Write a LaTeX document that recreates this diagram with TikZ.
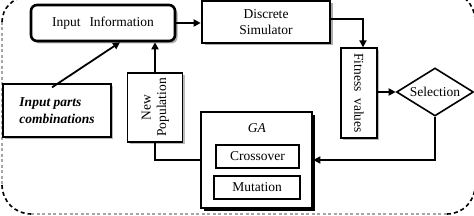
\documentclass[tikz,border=0pt]{standalone}
\usepackage{fontspec}
\setmainfont{Liberation Serif}
\usetikzlibrary{arrows.meta,shapes.geometric,shadows,calc}
\begin{document}
\begin{tikzpicture}[x=1pt,y=-1pt,
  font=\fontsize{13.5}{16.5}\selectfont,
  box/.style={draw, rectangle, inner sep=0pt, align=center, fill=white},
  thickbox/.style={box, line width=2.6pt, drop shadow={shadow xshift=2.5pt, shadow yshift=-2.5pt, fill=gray!65, opacity=1}},
  gabox/.style={box, line width=2.6pt, drop shadow={shadow xshift=3pt, shadow yshift=-3pt, fill=black, opacity=1}},
  thinbox/.style={box, line width=1.3pt, drop shadow={shadow xshift=2pt, shadow yshift=-2pt, fill=gray!55, opacity=1}},
  plainbox/.style={box, line width=1.1pt},
  decision/.style={draw, diamond, line width=1.6pt, inner sep=0pt, shape aspect=1.6, fill=white},
  arr/.style={line width=1.8pt, -{Triangle[length=7pt,width=7pt]}},
  conn/.style={line width=1.8pt},
  edge/.style={line width=2pt, gray!70, dash pattern=on 3pt off 2.5pt},
  corner/.style={line width=1.6pt, black, dash pattern=on 4pt off 3pt}]
\useasboundingbox (0,0) rectangle (474,216);
\begin{scope}
\clip (0,0) rectangle (474,216);
% outer dashed frame
\draw[edge] (2,22) -- (2,185);
\draw[edge] (31,214) -- (447,214);
\draw[corner] (2,22) arc[start angle=180, end angle=270, radius=25];
\draw[corner] (2,185) arc[start angle=180, end angle=90, radius=29];
\draw[corner] (447,214) arc[start angle=90, end angle=0, radius=28];
\draw[corner] (475,20) arc[start angle=0, end angle=-90, radius=28];
\end{scope}

% nodes
\node[thickbox, rounded corners=6pt, minimum width=144pt, minimum height=36pt] (info) at (103,23) {Input\hspace{9pt}Information};
\node[thickbox, minimum width=128pt, minimum height=42pt] (sim) at (266,22) {Discrete\\Simulator};
\node[thinbox, minimum width=36pt, minimum height=90pt] (fit) at (359,93) {\rotatebox{-90}{Fitness\ \ values}};
\node[decision, minimum width=77pt, minimum height=48pt] (sel) at (435,92) {Selection};
\node[gabox, minimum width=111pt, minimum height=96pt] (ga) at (256.5,160) {};
\node (galabel) at (257,128) {\textit{GA}};
\node[plainbox, minimum width=83pt, minimum height=23pt] (cross) at (257.5,156.5) {Crossover};
\node[plainbox, minimum width=86pt, minimum height=23pt] (mut) at (257,187.5) {Mutation};
\node[thinbox, minimum width=55pt, minimum height=69pt] (np) at (155,107.5) {\rotatebox{90}{\begin{tabular}{@{}c@{}}New\\[-1pt]Population\end{tabular}}};
\node[thinbox, minimum width=108pt, minimum height=53pt, align=left] (parts) at (57,110.5) {\textbf{\textit{Input parts}}\\\textbf{\textit{combinations}}};

% connectors
\draw[arr] (info.east) -- (info.east -| sim.west);
\coordinate (simout) at ($(sim.east)+(0,-3)$);
\coordinate (fitin) at ($(fit.north)+(4,0)$);
\draw[arr] (simout) -| (fitin);
\draw[arr] (fit.east |- sel.west) -- (sel.west);
\draw[arr] (sel.south) |- (ga.east);
\draw[conn] (ga.west) -| (np.south);
\draw[arr] (np.north) -- (np.north |- info.south);
\coordinate (partsout) at ($(parts.north)+(-5,4)$);
\coordinate (infoin) at ($(info.south)+(17,0)$);
\draw[arr] (partsout) -- (infoin);
\end{tikzpicture}
\end{document}
